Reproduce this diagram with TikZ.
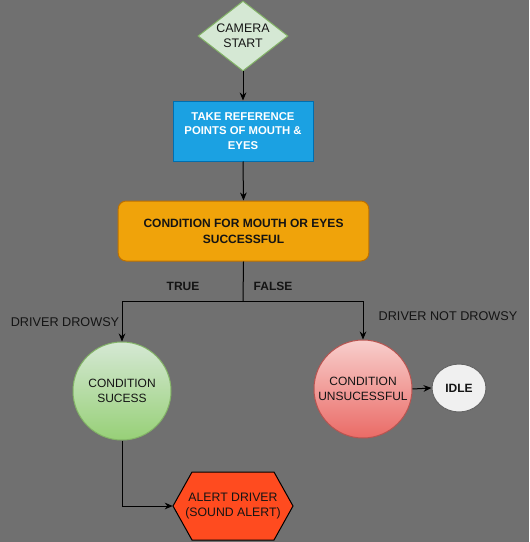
\documentclass[tikz,border=0pt]{standalone}
\usepackage{fontspec}
\setmainfont{Liberation Sans}
\usetikzlibrary{shapes.geometric,arrows.meta}
\definecolor{bgc}{HTML}{707070}
\definecolor{txt}{HTML}{141414}
\definecolor{gfill}{HTML}{D5E8D4}
\definecolor{gline}{HTML}{82B366}
\definecolor{gdark}{HTML}{97D077}
\definecolor{bfill}{HTML}{1BA1E2}
\definecolor{bline}{HTML}{006EAF}
\definecolor{ofill}{HTML}{F0A30A}
\definecolor{oline}{HTML}{BD7000}
\definecolor{rtop}{HTML}{F8CECC}
\definecolor{rbot}{HTML}{EA6B66}
\definecolor{rline}{HTML}{B85450}
\definecolor{ifill}{HTML}{F0F0F0}
\definecolor{iline}{HTML}{666666}
\definecolor{hfill}{HTML}{FF4B1F}
\tikzset{
  base/.style={font=\fontsize{9pt}{11pt}\selectfont, text=txt, align=center, inner sep=0pt},
  conn/.style={draw=black, line width=0.75pt, -{Stealth[length=6pt,width=5pt]}},
  line/.style={draw=black, line width=0.75pt},
  lbl/.style={font=\fontsize{9.5pt}{11pt}\selectfont, text=txt, inner sep=0pt},
}
\begin{document}
\begin{tikzpicture}[x=0.75pt,y=-0.75pt]
\fill[bgc] (0,0) rectangle (529,542);
\useasboundingbox (0,0) rectangle (529,542);

\node[base, diamond, shape aspect=1.3, minimum width=67.5pt, minimum height=52.5pt, fill=gfill, draw=gline, line width=0.75pt, font=\fontsize{9.3pt}{11pt}\selectfont] (cam) at (243,36) {CAMERA\\START};

\node[base, rectangle, minimum width=105pt, minimum height=45pt, fill=bfill, draw=bline, line width=0.75pt, text=white, font=\fontsize{8.5pt}{10.8pt}\selectfont\bfseries] (take) at (243,131) {TAKE REFERENCE\\POINTS OF MOUTH \&\\EYES};

\node[base, rectangle, rounded corners=6pt, minimum width=188pt, minimum height=45pt, fill=ofill, draw=oline, line width=0.75pt, font=\fontsize{9pt}{12pt}\selectfont\bfseries] (cond) at (243.5,231) {CONDITION FOR MOUTH OR EYES\\SUCCESSFUL};

\coordinate (split) at (243,301);

\node[base, circle, minimum size=73.5pt, shading=axis, top color=gfill, bottom color=gdark, draw=gline, line width=0.75pt] (succ) at (122,391) {CONDITION\\SUCESS};

\node[base, circle, minimum size=73.5pt, shading=axis, top color=rtop, bottom color=rbot, draw=rline, line width=0.75pt] (fail) at (363,389) {CONDITION\\UNSUCESSFUL};

\node[base, ellipse, minimum width=40.5pt, minimum height=36pt, fill=ifill, draw=iline, line width=0.75pt, font=\fontsize{9pt}{11pt}\selectfont\bfseries] (idle) at (459,388) {IDLE};

\path[fill=hfill, draw=black, line width=0.75pt] (173,506) -- (192,472) -- (274,472) -- (293,506) -- (274,540) -- (192,540) -- cycle;
\node[base, rectangle, minimum width=90pt, minimum height=51pt, font=\fontsize{9.2pt}{11.5pt}\selectfont] (alert) at (233,506) {ALERT DRIVER\\(SOUND ALERT)};

\node[lbl, font=\fontsize{9pt}{11pt}\selectfont\bfseries] (ltrue) at (183,286) {TRUE};
\node[lbl, font=\fontsize{9pt}{11pt}\selectfont\bfseries] (lfalse) at (273,286) {FALSE};
\node[lbl] (ldrowsy) at (65,322) {DRIVER DROWSY};
\node[lbl] (lnot) at (448,316) {DRIVER NOT DROWSY};

\draw[conn] (cam.south) -- (take.north);
\draw[conn] (take.south) -- (cond.north);
\draw[line] (cond.south) -- (split);
\draw[conn] (split) -| (succ.north);
\draw[conn] (split) -| (fail.north);
\draw[conn] (fail.east) -- (idle.west);
\draw[conn] (succ.south) |- (alert.west);
\end{tikzpicture}
\end{document}
